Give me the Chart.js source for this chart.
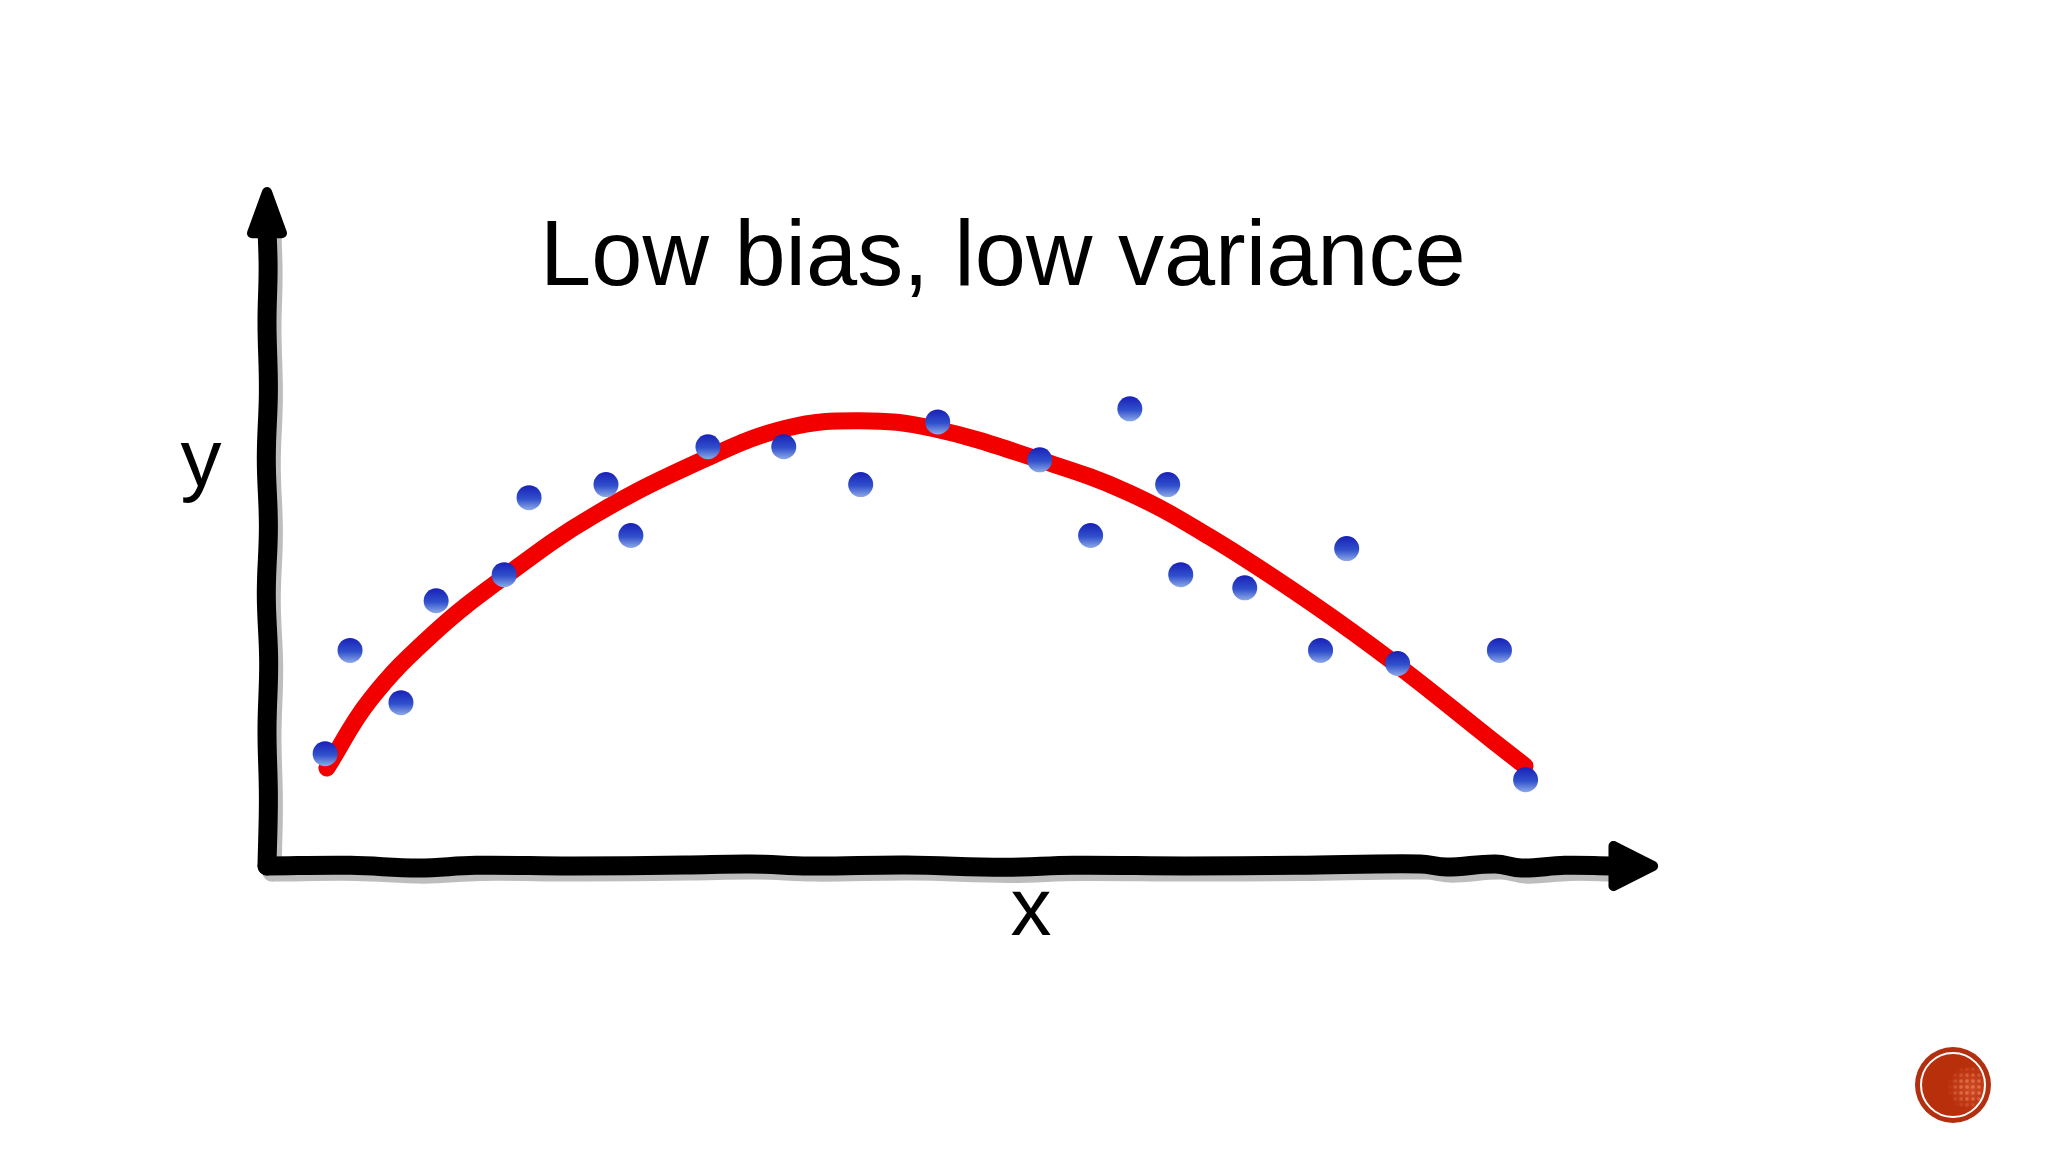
<!DOCTYPE html>
<html>
<head>
<meta charset="utf-8">
<title>Low bias, low variance</title>
<script src="https://cdn.jsdelivr.net/npm/chart.js@4/dist/chart.umd.min.js"></script>
<style>
  html, body { margin: 0; padding: 0; background: #fff; overflow: hidden; }
  #wrap { position: relative; width: 2048px; height: 1152px; }
  #badge {
    position: absolute; left: 1915px; top: 1047px; width: 76px; height: 76px;
    border-radius: 50%; box-sizing: border-box;
    background: #b2300f;
  }
  #badge div {
    position: absolute; left: 5px; top: 5px; width: 66px; height: 66px;
    box-sizing: border-box; border-radius: 50%; border: 2px solid #fff;
    background:
      radial-gradient(circle at 78% 55%, rgba(220,95,55,.6), rgba(220,95,55,0) 38%),
      #b82f0c;
  }
  #badge span {
    position: absolute; left: 0; top: 0; width: 100%; height: 100%; border-radius: 50%;
    background: radial-gradient(circle, rgba(245,150,110,.5) 1.2px, rgba(245,150,110,0) 2.4px) 0 0 / 6px 6px;
    -webkit-mask-image: radial-gradient(circle at 78% 55%, #000 18%, transparent 40%);
    mask-image: radial-gradient(circle at 78% 55%, #000 18%, transparent 40%);
  }
</style>
</head>
<body>
<div id="wrap">
  <canvas id="chartCanvas" width="2048" height="1152"></canvas>
  <div id="badge"><div><span></span></div></div>
</div>
<script>
const pointX = [4.18, 5.97, 9.63, 12.16, 17.05, 18.84, 24.37, 26.16, 31.70, 37.15, 42.68, 48.22, 55.55, 59.21, 62.03, 64.75, 65.69, 70.29, 75.74, 77.62, 81.28, 88.60, 90.48];
const pointY = [16.55, 31.75, 24.05, 39.06, 42.90, 54.25, 56.17, 48.67, 61.75, 61.75, 56.17, 65.40, 59.82, 48.67, 67.33, 56.17, 42.90, 40.97, 31.75, 46.75, 29.82, 31.75, 12.70];

const curveX = [4.31, 7.40, 11.93, 17.04, 23.44, 31.63, 37.38, 42.63, 47.88, 55.57, 61.83, 67.79, 74.98, 81.24, 88.14, 90.44];
const curveY = [14.43, 24.45, 34.17, 42.56, 51.55, 60.09, 64.51, 65.58, 64.43, 59.79, 55.08, 48.45, 38.88, 29.60, 18.41, 14.73];

const xAxisX = [0, 6, 10.9, 15, 22, 30, 34.8, 39, 46, 53, 58, 66, 74, 82.9, 84.8, 88.3, 90.2, 93.3, 96.6];
const xAxisY = [0, 0.1, -0.3, 0.1, 0, 0.15, 0.3, 0, 0.15, -0.2, 0.1, 0, 0.1, 0.3, -0.15, 0.3, -0.3, 0.1, 0];

const yAxisX = [0, 0.1, 0, 0.12, -0.05, 0.1, -0.05, 0.1, 0, 0.08, 0];
const yAxisY = [0, 10, 20, 30, 40, 50, 60, 70, 80, 88, 94];

const yHeadX = [-1.08, 0, 1.08, -1.08];
const yHeadY = [93.2, 99.26, 93.2, 93.2];
const xHeadX = [96.8, 99.65, 96.8, 96.8];
const xHeadY = [2.95, 0, -2.95, 2.95];

const titleText = 'Low bias, low variance';
const xLabel = 'x';
const yLabel = 'y';

function zip(xs, ys) {
    return xs.map((x, i) => ({ x: x, y: ys[i] }));
}

function lineSet(label, data, color, width, order, extra) {
    return Object.assign({
        label: label,
        data: data,
        showLine: true,
        borderColor: color,
        backgroundColor: color,
        borderWidth: width,
        pointRadius: 0,
        borderCapStyle: 'round',
        borderJoinStyle: 'round',
        tension: 0.4,
        clip: false,
        order: order
    }, extra || {});
}

function ballColor(ctx) {
    const scale = ctx.chart.scales.y;
    if (!ctx.parsed || !scale) return '#2a3fc8';
    const py = scale.getPixelForValue(ctx.parsed.y);
    if (!Number.isFinite(py)) return '#2a3fc8';
    const g = ctx.chart.ctx.createLinearGradient(0, py - 12, 0, py + 12);
    g.addColorStop(0, '#1a22b8');
    g.addColorStop(0.55, '#3050cc');
    g.addColorStop(1, '#8aa6e6');
    return g;
}

const textPlugin = {
    id: 'textPlugin',
    afterDatasetsDraw(chart, args, opts) {
        const c = chart.ctx;
        c.save();
        c.fillStyle = '#000';
        c.textAlign = 'center';
        c.textBaseline = 'alphabetic';
        opts.items.forEach((t) => {
            c.font = t.size + 'px "Liberation Sans"';
            c.fillText(t.text, chart.scales.x.getPixelForValue(t.x), chart.scales.y.getPixelForValue(t.y));
        });
        c.restore();
    }
};

const canvas = document.getElementById('chartCanvas');
new Chart(canvas, {
    type: 'scatter',
    data: {
        datasets: [
            {
                label: 'Samples',
                data: zip(pointX, pointY),
                backgroundColor: ballColor,
                borderWidth: 0,
                pointRadius: 12.5,
                clip: false,
                order: 0
            },
            lineSet('Fit', zip(curveX, curveY), '#f20000', 17, 1),
            lineSet('x axis', zip(xAxisX, xAxisY), '#000', 19, 2),
            lineSet('y axis', zip(yAxisX, yAxisY), '#000', 19, 2),
            lineSet('y arrow', zip(yHeadX, yHeadY), '#000', 10, 2, { fill: 'shape', tension: 0 }),
            lineSet('x arrow', zip(xHeadX, xHeadY), '#000', 10, 2, { fill: 'shape', tension: 0 }),
            lineSet('x shadow', zip(xAxisX.map((v) => v + 0.4), xAxisY.map((v) => v - 0.9)), '#bdbdbd', 19, 3),
            lineSet('y shadow', zip(yAxisX.map((v) => v + 0.36), yAxisY.map((v) => v - 0.9)), '#bdbdbd', 19, 3)
        ]
    },
    options: {
        responsive: false,
        animation: false,
        layout: { autoPadding: false, padding: { left: 2.71, right: 111.8, top: 119.1, bottom: 14.4 } },
        scales: {
            x: { type: 'linear', min: -19, max: 120, display: false },
            y: { type: 'linear', min: -40, max: 110, display: false }
        },
        plugins: {
            legend: { display: false },
            tooltip: { enabled: false },
            textPlugin: {
                items: [
                    { text: titleText, x: 52.9, y: 85.6, size: 92 },
                    { text: xLabel, x: 54.92, y: -10.16, size: 82 },
                    { text: yLabel, x: -4.74, y: 56.0, size: 82 }
                ]
            }
        }
    },
    plugins: [textPlugin]
});
</script>
</body>
</html>
